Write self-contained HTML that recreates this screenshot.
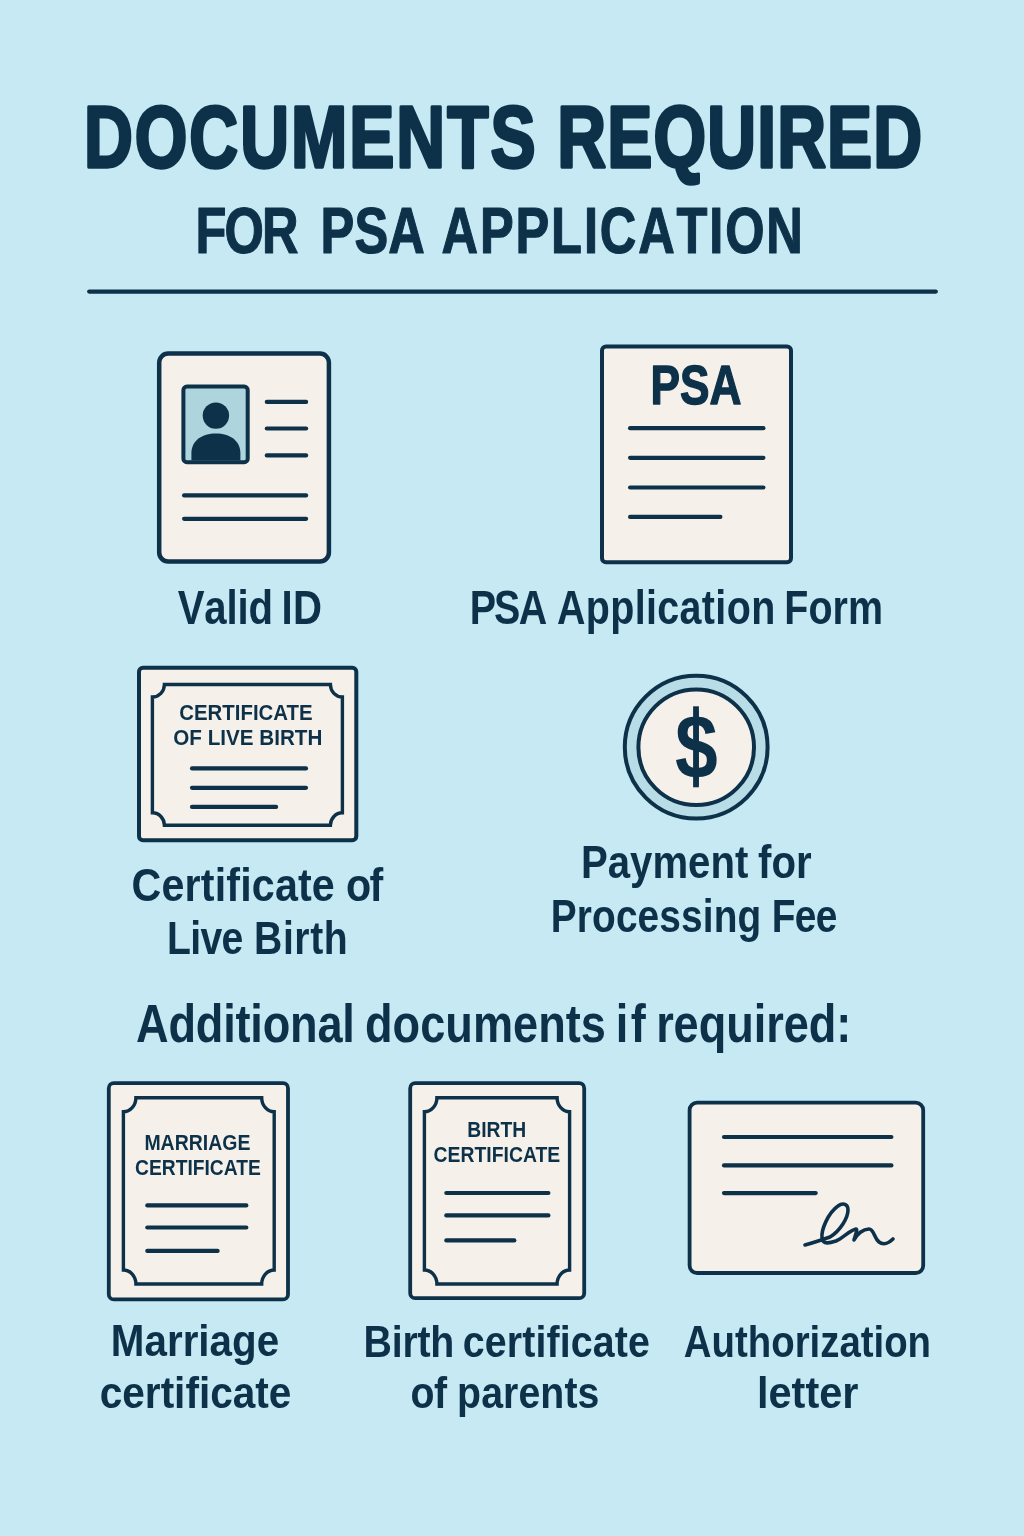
<!DOCTYPE html>
<html lang="en">
<head>
<meta charset="utf-8">
<title>Documents Required for PSA Application</title>
<style>
  html, body { margin: 0; padding: 0; background: #c6e9f3; }
  body { width: 1024px; height: 1536px; overflow: hidden; }
  svg { display: block; will-change: transform; }
  text { font-family: "Liberation Sans", sans-serif; fill: #0d3149; }
  .b { font-weight: 700; }
  .ln { stroke: #0d3149; stroke-width: 4.2; stroke-linecap: round; fill: none; }
  .paper { fill: #f5f1ea; stroke: #0d3149; }
  .frame { fill: none; stroke: #0d3149; stroke-width: 3.4; stroke-linejoin: miter; }
</style>
</head>
<body>
<svg width="1024" height="1536" viewBox="0 0 1024 1536">
  <rect x="0" y="0" width="1024" height="1536" fill="#c6e9f3"/>

  <!-- ===== HEADER ===== -->
  <g id="header">
    <text class="b" transform="scale(0.772 1)" x="108.8 174.6 245.3 311.1 376.9 452.4 513.4 579.2 635.3 693.7 721.9 786.6 846.5 916.1 980.9 1006.7 1071.4 1131.3" y="167.0" font-size="87.6" stroke="#0d3149" stroke-width="3.0" stroke-linejoin="round" vector-effect="non-scaling-stroke">DOCUMENTS REQUIRED</text>
    <text class="b" transform="scale(0.79 1)" x="247.4 284.1 331.5 377.7 405.8 448.6 491.5 537.7 559.0 607.5 652.6 697.6 739.1 759.2 807.8 856.3 897.8 917.9 970.1" y="253.0" font-size="64.0" stroke="#0d3149" stroke-width="1.1" stroke-linejoin="round" vector-effect="non-scaling-stroke">FOR PSA APPLICATION</text>
    <line x1="89.2" y1="291.6" x2="935.8" y2="291.6" stroke="#0d3149" stroke-width="4.2" stroke-linecap="round"/>
  </g>

  <!-- ===== ROW 1 ===== -->
  <g id="row1">
    <!-- Valid ID card -->
    <rect class="paper" x="159.2" y="353.6" width="169.7" height="208" rx="9" ry="9" stroke-width="4.5"/>
    <rect x="183.4" y="386.6" width="64.3" height="75.6" rx="3.5" ry="3.5" fill="#aed5dd" stroke="#0d3149" stroke-width="4"/>
    <circle cx="215.9" cy="415.6" r="13.2" fill="#0d3149"/>
    <path d="M191.4 460.4 V453 C191.4 440.5 202 433.4 215.9 433.4 C229.8 433.4 240.4 440.5 240.4 453 V460.4 Z" fill="#0d3149"/>
    <line class="ln" x1="266.8" y1="401.9" x2="306.1" y2="401.9"/>
    <line class="ln" x1="266.8" y1="428.5" x2="306.1" y2="428.5"/>
    <line class="ln" x1="266.8" y1="455.4" x2="306.1" y2="455.4"/>
    <line class="ln" x1="184.1" y1="495.4" x2="306.1" y2="495.4"/>
    <line class="ln" x1="184.1" y1="518.8" x2="306.1" y2="518.8"/>
    <text class="b" transform="scale(0.8459 1)" x="210.0 241.5 267.8 280.8 293.9 322.9 332.7 346.5" y="623.8" font-size="47.5">Valid ID</text>

    <!-- PSA application form -->
    <rect class="paper" x="602" y="346.6" width="189" height="215.6" rx="4" ry="4" stroke-width="4"/>
    <text class="b" x="650.5" y="404.2" font-size="55.8" textLength="91" lengthAdjust="spacingAndGlyphs" stroke="#0d3149" stroke-width="1.4" stroke-linejoin="round">PSA</text>
    <line class="ln" x1="630.1" y1="428.2" x2="763.4" y2="428.2"/>
    <line class="ln" x1="630.1" y1="457.8" x2="763.4" y2="457.8"/>
    <line class="ln" x1="630.1" y1="487.5" x2="763.4" y2="487.5"/>
    <line class="ln" x1="630.1" y1="516.9" x2="720.4" y2="516.9"/>
    <text class="b" transform="scale(0.8324 1)" x="564.2 593.6 623.1 657.3 669.1 703.7 733.1 762.5 776.0 789.6 816.4 843.2 859.4 873.0 902.4 931.3 942.2 971.2 1000.2 1018.7" y="623.8" font-size="47.4">PSA Application Form</text>
  </g>

  <!-- ===== ROW 2 ===== -->
  <g id="row2">
    <!-- Certificate of Live Birth -->
    <rect class="paper" x="139" y="667.8" width="217.3" height="172.5" rx="4" ry="4" stroke-width="4"/>
    <path class="frame" d="M164.4 684.5 H330.4 A12 12.5 0 0 0 342.4 697 V812.8 A12 12.5 0 0 0 330.4 825.3 H164.4 A12 12.5 0 0 0 152.4 812.8 V697 A12 12.5 0 0 0 164.4 684.5 Z"/>
    <text class="b" x="179.2" y="719.9" font-size="22.3" textLength="133.4" lengthAdjust="spacingAndGlyphs">CERTIFICATE</text>
    <text class="b" x="173.3" y="745.2" font-size="22.6" textLength="149" lengthAdjust="spacingAndGlyphs">OF LIVE BIRTH</text>
    <line class="ln" x1="192" y1="768.4" x2="306" y2="768.4"/>
    <line class="ln" x1="192" y1="787.8" x2="306" y2="787.8"/>
    <line class="ln" x1="192" y1="806.9" x2="276.1" y2="806.9"/>
    <text class="b" transform="scale(0.8775 1)" x="150.0 184.1 210.4 228.9 244.7 257.9 273.7 287.0 313.3 339.6 355.4 381.5 394.2 421.2" y="901.1" font-size="47">Certificate of</text>
    <text class="b" transform="scale(0.8331 1)" x="200.6 228.4 240.6 265.8 292.0 305.0 339.6 353.3 372.3 388.6" y="953.8" font-size="47">Live Birth</text>

    <!-- Payment coin -->
    <circle cx="696.2" cy="747.1" r="71.4" fill="#b8dde6" stroke="#0d3149" stroke-width="4"/>
    <circle cx="696.2" cy="747.3" r="57.8" fill="#f5f1ea" stroke="#0d3149" stroke-width="4"/>
    <text class="b" transform="translate(696.3 778.2) scale(0.84 1)" font-size="91.5" text-anchor="middle">$</text>
    <line x1="696" y1="706.3" x2="696" y2="787.3" stroke="#0d3149" stroke-width="5.8"/>
    <text class="b" transform="scale(0.8579 1)" x="677.3 708.5 734.5 760.5 802.1 828.1 856.6 872.2 883.6 899.3 927.9" y="878" font-size="46.8">Payment for</text>
    <text class="b" transform="scale(0.8298 1)" x="663.7 695.0 713.4 742.2 768.4 794.6 820.8 847.0 860.2 888.9 917.5 930.1 957.9 983.2" y="931.6" font-size="46.8">Processing Fee</text>
  </g>

  <!-- ===== ADDITIONAL ===== -->
  <g id="additional">
    <text class="b" transform="scale(0.8472 1)" x="160.5 198.8 231.1 263.4 278.0 295.5 310.1 342.4 374.7 404.1 418.9 430.9 463.4 496.0 525.6 558.2 605.6 635.2 667.7 685.5 715.1 726.9 744.5 762.3 774.5 795.1 824.7 857.2 889.7 904.4 925.1 954.7 987.1" y="1041.6" font-size="53.3">Additional documents if required:</text>
  </g>

  <!-- ===== ROW 3 ===== -->
  <g id="row3">
    <!-- Marriage certificate -->
    <rect class="paper" x="108.8" y="1083.2" width="179.2" height="216.2" rx="5" ry="5" stroke-width="3.8"/>
    <path class="frame" d="M135.9 1097.8 H261.7 A12.5 14 0 0 0 274.2 1111.8 V1270 A12.5 14 0 0 0 261.7 1284 H135.9 A12.5 14 0 0 0 123.4 1270 V1111.8 A12.5 14 0 0 0 135.9 1097.8 Z"/>
    <text class="b" x="144.4" y="1149.7" font-size="22" textLength="106" lengthAdjust="spacingAndGlyphs">MARRIAGE</text>
    <text class="b" x="135" y="1174.8" font-size="22.3" textLength="125.8" lengthAdjust="spacingAndGlyphs">CERTIFICATE</text>
    <line class="ln" x1="147.3" y1="1205.4" x2="246.3" y2="1205.4"/>
    <line class="ln" x1="147.3" y1="1227.5" x2="246.3" y2="1227.5"/>
    <line class="ln" x1="147.3" y1="1250.9" x2="217.6" y2="1250.9"/>
    <text class="b" transform="scale(0.9066 1)" x="122.3 159.4 184.1 201.5 218.8 231.1 255.9 283.1" y="1356" font-size="44.5">Marriage</text>
    <text class="b" transform="scale(0.9117 1)" x="109.4 134.1 158.9 176.2 191.0 203.4 218.2 230.5 255.3 280.0 294.9" y="1408.3" font-size="44.5">certificate</text>

    <!-- Birth certificate of parents -->
    <rect class="paper" x="410.2" y="1083.2" width="174" height="215" rx="5" ry="5" stroke-width="3.8"/>
    <path class="frame" d="M436.9 1097.8 H557.1 A12.5 14 0 0 0 569.6 1111.8 V1270 A12.5 14 0 0 0 557.1 1284 H436.9 A12.5 14 0 0 0 424.4 1270 V1111.8 A12.5 14 0 0 0 436.9 1097.8 Z"/>
    <text class="b" x="467.2" y="1136.9" font-size="21.3" textLength="59" lengthAdjust="spacingAndGlyphs">BIRTH</text>
    <text class="b" x="433.6" y="1161.8" font-size="21.3" textLength="126.6" lengthAdjust="spacingAndGlyphs">CERTIFICATE</text>
    <line class="ln" x1="446.3" y1="1193" x2="548.4" y2="1193"/>
    <line class="ln" x1="446.3" y1="1215.4" x2="548.4" y2="1215.4"/>
    <line class="ln" x1="446.3" y1="1240.4" x2="514.3" y2="1240.4"/>
    <text class="b" transform="scale(0.8744 1)" x="415.8 448.0 460.2 477.4 492.1 519.6 529.3 554.5 579.6 597.3 612.4 625.0 640.1 652.8 677.9 703.1 718.2" y="1357.1" font-size="45">Birth certificate</text>
    <text class="b" transform="scale(0.8723 1)" x="470.6 497.6 512.6 524.0 551.6 576.7 594.3 619.4 647.0 662.0" y="1408.4" font-size="45">of parents</text>

    <!-- Authorization letter -->
    <rect class="paper" x="689.6" y="1102.6" width="233.6" height="170.4" rx="7.5" ry="7.5" stroke-width="3.8"/>
    <line class="ln" x1="724" y1="1137" x2="891.4" y2="1137"/>
    <line class="ln" x1="724" y1="1165.4" x2="891.4" y2="1165.4"/>
    <line class="ln" x1="724" y1="1193.1" x2="815.7" y2="1193.1"/>
    <path d="M805 1245 C812 1243 822 1240 830 1237 C840 1231 848 1218 848 1210 C848 1203 842 1203 838 1206 C828 1213 821 1230 822 1238 C823 1245 830 1243 836 1241 C843 1238 850 1230 856 1229 C858 1229 855 1236 854 1240 C857 1234 863 1229 869 1229 C874 1229 874 1238 879 1242 C884 1246 890 1242 893 1239" fill="none" stroke="#0d3149" stroke-width="3.6" stroke-linecap="round" stroke-linejoin="round"/>
    <text class="b" transform="scale(0.8527 1)" x="802.0 834.5 862.0 876.9 904.4 931.9 949.4 961.9 984.4 1009.5 1024.4 1036.9 1064.4" y="1357" font-size="45">Authorization</text>
    <text class="b" transform="scale(0.9226 1)" x="820.5 833.0 858.0 873.0 888.0 913.0" y="1408.3" font-size="45">letter</text>
  </g>
</svg>
</body>
</html>
